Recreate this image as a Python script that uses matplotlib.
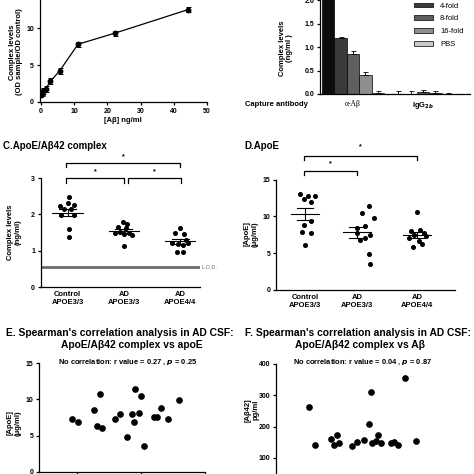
import numpy as np
import matplotlib
matplotlib.use("Agg")
import matplotlib.pyplot as plt

plt.rcParams['font.family'] = ['Liberation Sans', 'DejaVu Sans']
plt.rcParams['font.weight'] = 'bold'
plt.rcParams['axes.labelweight'] = 'bold'
plt.rcParams['axes.linewidth'] = 0.9
plt.rcParams['xtick.major.width'] = 0.9
plt.rcParams['ytick.major.width'] = 0.9
plt.rcParams['xtick.major.size'] = 2.5
plt.rcParams['ytick.major.size'] = 2.5
plt.rcParams['xtick.labelsize'] = 5
plt.rcParams['ytick.labelsize'] = 5
plt.rcParams['xtick.major.pad'] = 1.5
plt.rcParams['ytick.major.pad'] = 1.5

# ---------------- data ----------------
# A: standard curve
a_conc = [0, 0.17, 0.35, 0.69, 1.39, 2.78, 5.56, 11.1, 22.2, 44.4]
a_level = [1.0, 1.1, 1.3, 1.5, 1.8, 2.8, 4.2, 7.8, 9.3, 12.5]
a_err = [0.25, 0.3, 0.35, 0.45, 0.4, 0.4, 0.35, 0.3, 0.35, 0.3]

# B: capture antibody bars
b_groups = ['α-Aβ', 'IgG$_{2b}$']
b_series = ['2-fold', '4-fold', '8-fold', '16-fold', 'PBS']
b_vals = {
    '2-fold': [2.4, 0.0],
    '4-fold': [1.2, 0.0],
    '8-fold': [0.85, 0.04],
    '16-fold': [0.40, 0.03],
    'PBS': [0.03, 0.01],
}
b_errs = {
    '2-fold': [0.1, 0.07],
    '4-fold': [0.01, 0.06],
    '8-fold': [0.06, 0.05],
    '16-fold': [0.06, 0.03],
    'PBS': [0.04, 0.01],
}
b_colors = ['#0d0d0d', '#3a3a3a', '#5f5f5f', '#8e8e8e', '#c9c9c9']

# C: ApoE/Ab42 complex
groups = ['Control\nAPOE3/3', 'AD\nAPOE3/3', 'AD\nAPOE4/4']
c_vals = [
    [2.48, 2.23, 2.30, 2.27, 2.14, 2.15, 1.98, 1.98, 1.59, 1.38],
    [1.80, 1.73, 1.66, 1.62, 1.52, 1.50, 1.48, 1.47, 1.43, 1.12],
    [1.62, 1.50, 1.45, 1.30, 1.22, 1.20, 1.18, 1.15, 0.97, 0.95],
]
c_lod = 0.55

# D: ApoE
d_vals = [
    [13.05, 12.8, 12.8, 12.3, 12.0, 9.4, 8.86, 7.86, 7.7, 6.1],
    [11.45, 10.4, 9.8, 8.7, 8.4, 7.7, 7.4, 7.0, 6.8, 4.9, 3.5],
    [10.6, 8.2, 8.0, 7.7, 7.5, 7.3, 7.0, 6.6, 6.2, 5.9],
]

# E / F: correlation in AD CSF
ef_complex = [0.955, 1.002, 1.13, 1.153, 1.179, 1.192, 1.299, 1.333, 1.39, 1.429,
              1.447, 1.453, 1.48, 1.497, 1.52, 1.598, 1.627, 1.656, 1.71, 1.80]
e_apoe = [7.27, 6.82, 8.5, 6.32, 10.68, 6.0, 7.23, 7.95, 4.86, 7.95,
          6.9, 11.45, 8.18, 10.45, 3.55, 7.59, 7.59, 8.77, 7.32, 9.86]
f_ab42 = [262, 140, 162, 140, 172, 149, 139, 152, 157, 209,
          311, 148, 154, 173, 148, 148, 150, 140, 355, 155]

# ---------------- layout helpers ----------------
W = H = 474
fig = plt.figure(figsize=(4.74, 4.74), dpi=100)


def px_axes(l, t, r, b):
    return fig.add_axes([l / W, 1 - b / H, (r - l) / W, (b - t) / H])


def clean(ax):
    ax.spines['top'].set_visible(False)
    ax.spines['right'].set_visible(False)


def fx(x):
    return x / W


def fy(y):
    return 1 - y / H

# ---------------- panel A ----------------
axA = px_axes(39.5, -9, 207, 102)
clean(axA)
axA.errorbar(a_conc, a_level, yerr=a_err, color='black', marker='o', ms=3.2,
             lw=0.9, capsize=1.8, elinewidth=0.7, capthick=0.7)
axA.set_xlim(-0.5, 50)
axA.set_ylim(0, 15)
axA.set_xticks([0, 10, 20, 30, 40, 50])
axA.set_yticks([0, 5, 10])
axA.set_xlabel('[Aβ] ng/ml', fontsize=5.5, labelpad=2)
fig.text(fx(16), fy(52), 'Complex levels\n(OD sample/OD control)', rotation=90,
         ha='center', va='center', fontsize=5.5, fontweight='bold', linespacing=1.1)

# ---------------- panel B ----------------
axB = px_axes(320, -23.5, 470, 94)
clean(axB)
bw = 0.177
gx = np.arange(len(b_groups))
bar_handles = []
for k, name in enumerate(b_series):
    pos = gx + (k - 2) * bw
    vals = b_vals[name]
    errs = b_errs[name]
    bc = axB.bar(pos, vals, width=bw, color=b_colors[k], edgecolor='black', lw=0.5,
                 label=name, zorder=2)
    bar_handles.append(bc)
    axB.errorbar(pos, vals, yerr=[[0] * len(vals), errs], fmt='none',
                 ecolor='black', elinewidth=0.6, capsize=1.8, capthick=0.6, zorder=3)
axB.set_xlim(-0.47, 1.67)
axB.set_ylim(0, 2.5)
axB.set_yticks([0.0, 0.5, 1.0, 1.5, 2.0])
axB.set_yticklabels(['0.0', '0.5', '1.0', '1.5', '2.0'])
axB.set_xticks(gx)
axB.set_xticklabels(b_groups, fontsize=5.5)
axB.get_xticklabels()[0].set_fontfamily(['Liberation Serif', 'DejaVu Serif'])
axB.get_xticklabels()[0].set_fontweight('normal')
axB.tick_params(axis='x', length=0, pad=4)
fig.text(fx(286), fy(48), 'Complex levels\n(ng/ml )', rotation=90, ha='center',
         va='center', fontsize=5.5, fontweight='bold', linespacing=1.1)
fig.text(fx(245), fy(104), 'Capture antibody', ha='left', va='center',
         fontsize=5.5, fontweight='bold')
# legend: the top entry of the original legend lies outside the visible crop
leg = axB.legend(bar_handles[1:], b_series[1:], loc='upper left',
                 bbox_to_anchor=(fx(414), fy(2.5)),
                 bbox_transform=fig.transFigure, frameon=False, fontsize=5.5,
                 handlelength=2.5, handleheight=0.6, labelspacing=0.75,
                 handletextpad=0.9, borderaxespad=0, borderpad=0)
for t in leg.get_texts():
    t.set_fontweight('normal')


# ---------------- scatter panels C & D ----------------
def scatter_panel(ax, data, positions, offsets, ms):
    for i, vals in enumerate(data):
        vals = np.asarray(vals)
        xs = positions[i] + np.asarray(offsets[i][:len(vals)])
        ax.plot(xs, vals, 'o', color='black', ms=ms, zorder=3)
        m = vals.mean()
        sem = vals.std(ddof=1) / np.sqrt(len(vals))
        p = positions[i]
        ax.plot([p - 0.27, p + 0.27], [m, m], color='black', lw=0.8, zorder=4)
        ax.plot([p - 0.15, p + 0.15], [m + sem, m + sem], color='black', lw=0.8, zorder=4)
        ax.plot([p - 0.15, p + 0.15], [m - sem, m - sem], color='black', lw=0.8, zorder=4)
        ax.plot([p, p], [m - sem, m + sem], color='black', lw=0.8, zorder=4)


def bracket(ax, x0, x1, y, drop, star_dy):
    ax.plot([x0, x0, x1, x1], [y - drop, y, y, y - drop], color='black', lw=0.9,
            clip_on=False)
    ax.text((x0 + x1) / 2, y + star_dy, '*', ha='center', va='center', fontsize=5,
            clip_on=False)


c_off = [
    [0.03, -0.13, 0.0, 0.11, -0.06, 0.06, -0.12, 0.11, 0.03, 0.03],
    [-0.01, 0.05, -0.10, 0.03, -0.07, 0.09, -0.15, 0.01, 0.14, 0.0],
    [0.0, -0.10, 0.07, 0.10, -0.14, 0.14, -0.04, 0.04, -0.06, 0.04],
]
d_off = [
    [-0.10, 0.06, 0.18, -0.02, 0.12, 0.11, -0.03, -0.06, 0.12, 0.0],
    [0.23, 0.10, 0.33, 0.15, 0.0, 0.0, 0.25, 0.15, 0.05, 0.23, 0.25],
    [0.0, 0.06, -0.12, 0.14, -0.06, 0.17, -0.16, 0.03, 0.10, -0.08],
]

axC = px_axes(40.5, 178, 200, 287)
clean(axC)
c_pos = [0, 1, 2]
scatter_panel(axC, c_vals, c_pos, c_off, 2.6)
axC.axhline(c_lod, color='#6e6e6e', lw=2.0, zorder=1)
axC.text(1.01, c_lod, 'L.O.D.', transform=axC.get_yaxis_transform(), fontsize=4,
         color='#6e6e6e', va='center', ha='left', fontweight='normal')
axC.set_xlim(-0.48, 2.35)
axC.set_ylim(0, 3)
axC.set_yticks([0, 1, 2, 3])
axC.set_xticks(c_pos)
axC.set_xticklabels(groups, fontsize=5.5, linespacing=1.1)
axC.tick_params(axis='x', length=0, pad=3)
bracket(axC, -0.03, 2.0, 3.42, 0.13, 0.17)
bracket(axC, -0.03, 1.0, 3.0, 0.13, 0.17)
bracket(axC, 1.07, 2.02, 3.0, 0.13, 0.17)
fig.text(fx(3), fy(146), 'C.ApoE/Aβ42 complex', ha='left', va='center',
         fontsize=7, fontweight='bold')
fig.text(fx(14), fy(232), 'Complex levels\n(ng/ml)', rotation=90, ha='center',
         va='center', fontsize=5.5, fontweight='bold', linespacing=1.1)

axD = px_axes(276, 179.5, 455, 290)
clean(axD)
d_pos = [0, 1, 2.15]
scatter_panel(axD, d_vals, d_pos, d_off, 2.6)
axD.set_xlim(-0.56, 2.88)
axD.set_ylim(0, 15)
axD.set_yticks([0, 5, 10, 15])
axD.set_xticks(d_pos)
axD.set_xticklabels(groups, fontsize=5.5, linespacing=1.1)
axD.tick_params(axis='x', length=0, pad=3)
bracket(axD, -0.02, 2.15, 18.2, 0.6, 1.2)
bracket(axD, -0.02, 1.0, 16.2, 0.6, 0.95)
fig.text(fx(244), fy(146), 'D.ApoE', ha='left', va='center',
         fontsize=7, fontweight='bold')
fig.text(fx(251), fy(234), '[ApoE]\n(μg/ml)', rotation=90, ha='center',
         va='center', fontsize=5.5, fontweight='bold', linespacing=1.1)

# ---------------- panel E ----------------
axE = px_axes(39, 363, 205, 472)
clean(axE)
axE.plot(ef_complex, e_apoe, 'o', color='black', ms=3.8)
axE.set_xlim(0.7, 2.0)
axE.set_ylim(0, 15)
axE.set_xticks([1.0, 1.5, 2.0])
axE.set_xticklabels([])
axE.set_yticks([0, 5, 10, 15])
fig.text(fx(120), fy(333), "E. Spearman's correlation analysis in AD CSF:",
         ha='center', va='center', fontsize=7.4, fontweight='bold')
fig.text(fx(132), fy(345.5), "ApoE/Aβ42 complex vs apoE",
         ha='center', va='center', fontsize=7.4, fontweight='bold')
fig.text(fx(128), fy(362), "No correlation: r value = 0.27 , $\\it{p}$ = 0.25",
         ha='center', va='center', fontsize=5.4, fontweight='bold')
fig.text(fx(14), fy(423), '[ApoE]\n(μg/ml)', rotation=90, ha='center',
         va='center', fontsize=5.5, fontweight='bold', linespacing=1.1)

# ---------------- panel F ----------------
axF = px_axes(276, 364, 442, 489.3)
clean(axF)
axF.plot(ef_complex, f_ab42, 'o', color='black', ms=3.8)
axF.set_xlim(0.7, 2.0)
axF.set_ylim(0, 400)
axF.set_xticks([1.0, 1.5, 2.0])
axF.set_xticklabels([])
axF.set_yticks([100, 200, 300, 400])
fig.text(fx(358), fy(333), "F. Spearman's correlation analysis in AD CSF:",
         ha='center', va='center', fontsize=7.4, fontweight='bold')
fig.text(fx(360), fy(345.5), "ApoE/Aβ42 complex vs Aβ",
         ha='center', va='center', fontsize=7.4, fontweight='bold')
fig.text(fx(363), fy(362), "No correlation: r value = 0.04 , $\\it{p}$ = 0.87",
         ha='center', va='center', fontsize=5.4, fontweight='bold')
fig.text(fx(252), fy(410), '[Aβ42]\npg/ml', rotation=90, ha='center',
         va='center', fontsize=5.5, fontweight='bold', linespacing=1.1)

fig.savefig('out.png', dpi=100)
